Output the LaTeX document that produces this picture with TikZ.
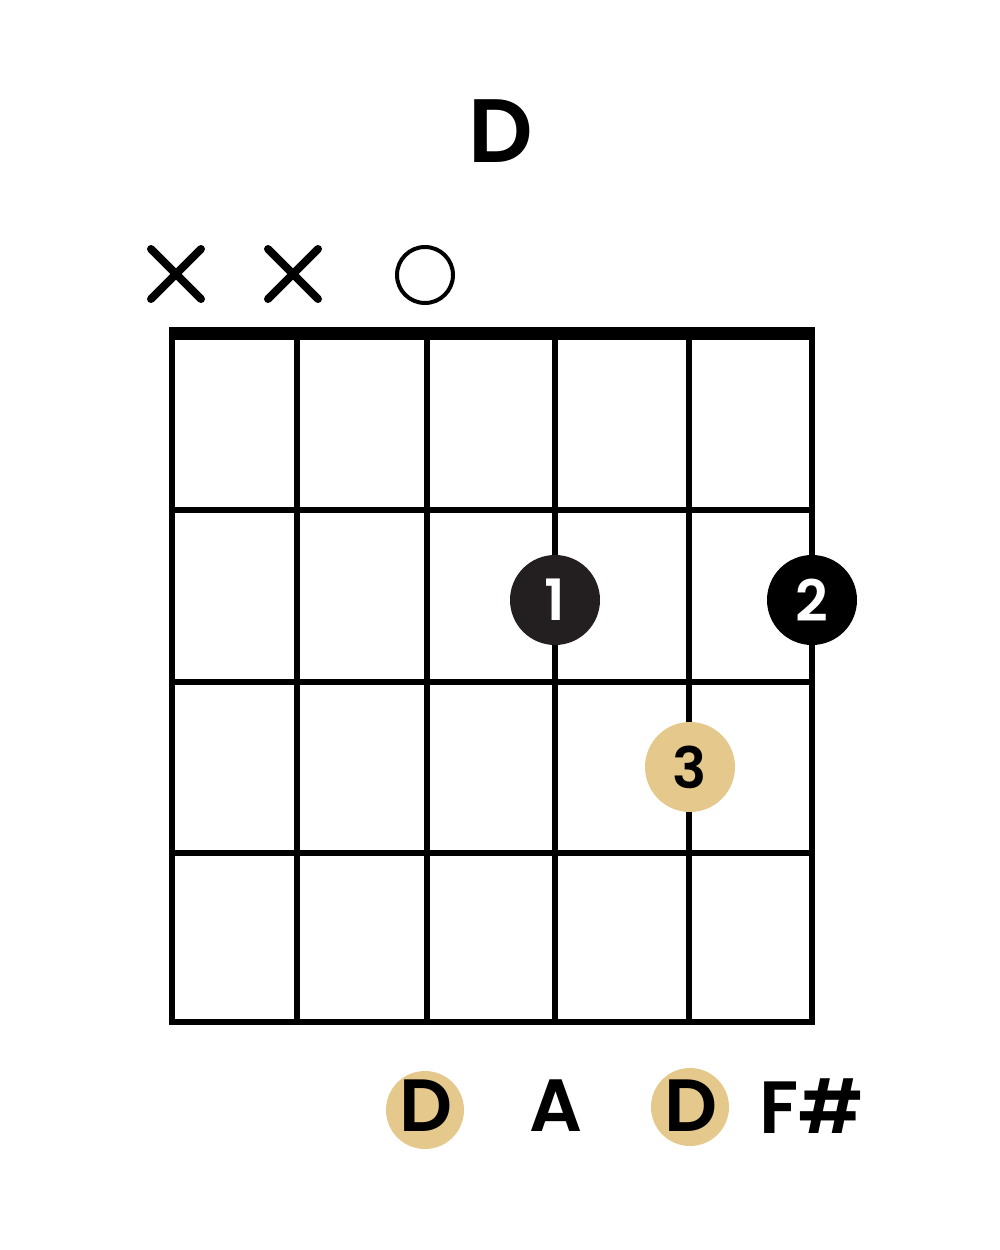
\documentclass[tikz,border=0pt]{standalone}
\usepackage{fontspec}
\setmainfont{Poppins}
\newfontfamily\popsemi{Poppins SemiBold}
\usetikzlibrary{calc}
\definecolor{tan}{HTML}{E5C98C}
\definecolor{dotdark}{HTML}{231F20}
\tikzset{
  fingerdot/.style={circle, minimum size=90pt, inner sep=0pt, text=white, font=\fontsize{57}{57}\selectfont\popsemi},
  tandot/.style={circle, fill=tan, minimum size=90pt, inner sep=0pt, text=black, font=\fontsize{57}{57}\selectfont\popsemi},
  notelbl/.style={inner sep=0pt, font=\fontsize{74}{74}\selectfont\popsemi},
  rootnote/.style={circle, fill=tan, minimum size=78pt, inner sep=0pt},
  mutemark/.style={line width=8pt, line cap=round},
}
\begin{document}
\begin{tikzpicture}[x=1pt,y=-1pt]
\useasboundingbox (0,0) rectangle (1000,1250);
% strings and frets
\foreach \x [count=\i] in {172,297,427,555,689,812} {
  \coordinate (s\i t) at (\x,334);
  \coordinate (s\i b) at (\x,1022);
}
\foreach \i in {1,...,6} { \draw[line width=5.5pt] (s\i t) -- (s\i b); }
\foreach \y [count=\j] in {510,682,853,1022} {
  \coordinate (f\j l) at (169.25,\y);
  \coordinate (f\j r) at (814.75,\y);
  \draw[line width=5.5pt] (f\j l) -- (f\j r);
}
% nut
\coordinate (nl) at (169.25,333.5);
\coordinate (nr) at (814.75,333.5);
\draw[line width=13pt] (nl) -- (nr);
% title
\node[notelbl, font=\fontsize{90}{90}\selectfont\popsemi] (title) at (501,131) {D};
% mute / open markers
\coordinate (m1) at (176,274);
\coordinate (m2) at (293,274);
\draw[mutemark] ($(m1)+(-25,-25)$) -- ($(m1)+(25,25)$) ($(m1)+(25,-25)$) -- ($(m1)+(-25,25)$);
\draw[mutemark] ($(m2)+(-25,-25)$) -- ($(m2)+(25,25)$) ($(m2)+(25,-25)$) -- ($(m2)+(-25,25)$);
\node[circle, draw, line width=4pt, minimum size=56pt, inner sep=0pt] (open) at (425,275) {};
% finger dots
\node[fingerdot, fill=dotdark] (d1) at (555,600) {1};
\node[fingerdot, fill=black] (d2) at (812,600) {2};
\node[tandot] (d3) at (690,767) {3};
% note names
\node[rootnote] (r1) at (425,1110) {};
\node[rootnote] (r2) at (690,1107) {};
\node[notelbl] (n1) at (426,1106) {D};
\node[notelbl] (n2) at (556,1106) {A};
\node[notelbl] (n3) at (691,1106) {D};
\node[notelbl] (n4) at (812,1106) {F\#};
\end{tikzpicture}
\end{document}
